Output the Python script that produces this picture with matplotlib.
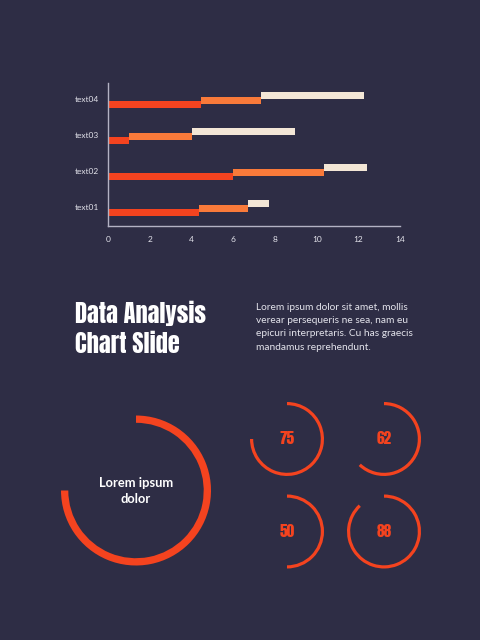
import matplotlib
matplotlib.use("Agg")
import matplotlib.pyplot as plt
from matplotlib.patches import Wedge
from matplotlib import font_manager

# ---------------- data ----------------
categories = ["text01", "text02", "text03", "text04"]
series1 = [4.35, 6.0, 1.0, 4.47]
series2 = [2.37, 4.35, 3.02, 2.84]
series3 = [0.98, 2.08, 4.96, 4.98]
x_ticks = [0, 2, 4, 6, 8, 10, 12, 14]

big_ring_value = 75
big_ring_label = "Lorem ipsum\ndolor"
small_ring_values = [75, 62, 50, 88]

title_lines = ["Data Analysis", "Chart Slide"]
paragraph_lines = ["Lorem ipsum dolor sit amet, mollis",
                   "verear persequeris ne sea, nam eu",
                   "epicuri interpretaris. Cu has graecis",
                   "mandamus reprehendunt."]

# ---------------- style ----------------
BG = "#2E2D45"
RED = "#F4431F"
ORANGE = "#F97A3A"
CREAM = "#F3E6D6"
AXIS = "#B3B2C4"
TEXT = "#E4E4EC"

names = {f.name for f in font_manager.fontManager.ttflist}
cond = None
for cand in ["Anton", "Oswald", "Bebas Neue", "Liberation Sans Narrow"]:
    if cand in names:
        cond = cand
        break
cond_family = [cond, "DejaVu Sans"] if cond else ["DejaVu Sans"]
body_family = ["Lato", "DejaVu Sans"] if "Lato" in names else ["DejaVu Sans"]

W, H = 480, 640
fig = plt.figure(figsize=(4.8, 6.4), dpi=100, facecolor=BG)

# ---------------- bar chart ----------------
ax = fig.add_axes([108.3 / W, 1 - 226 / H, (400 - 108.3) / W, (226 - 83) / H])
ax.set_facecolor(BG)
ypos = list(range(len(categories)))
bh = 0.19
s12 = [a + b for a, b in zip(series1, series2)]
ax.barh([y - 0.16 for y in ypos], series1, height=bh, color=RED)
ax.barh([y - 0.05 for y in ypos], series2, left=series1, height=bh, color=ORANGE)
ax.barh([y + 0.10 for y in ypos], series3, left=s12, height=bh, color=CREAM)
ax.set_xlim(0, 14)
ax.set_ylim(-0.53, 3.44)
ax.set_xticks(x_ticks)
ax.set_xticklabels([str(t) for t in x_ticks])
ax.set_yticks(ypos)
ax.set_yticklabels(categories)
for s in ["top", "right"]:
    ax.spines[s].set_visible(False)
for s in ["left", "bottom"]:
    ax.spines[s].set_color(AXIS)
    ax.spines[s].set_linewidth(1.0)
ax.tick_params(axis="x", length=0, pad=7, labelsize=6, labelcolor=TEXT)
ax.tick_params(axis="y", length=0, pad=7, labelsize=6, labelcolor=TEXT)
for lab in ax.get_xticklabels() + ax.get_yticklabels():
    lab.set_family(body_family)

# ---------------- texts ----------------
fig.text(75 / W, 1 - 313 / H, title_lines[0], color="white", fontsize=17.6,
         fontweight="bold", family=cond_family, va="center", ha="left")
fig.text(75 / W, 1 - 344 / H, title_lines[1], color="white", fontsize=17.6,
         fontweight="bold", family=cond_family, va="center", ha="left")
for i, line in enumerate(paragraph_lines):
    fig.text(256 / W, 1 - (307 + 13.4 * i) / H, line, color=TEXT, fontsize=7.3,
             family=body_family, va="center", ha="left")

# ---------------- rings ----------------
ov = fig.add_axes([0, 0, 1, 1])
ov.set_xlim(0, W)
ov.set_ylim(0, H)
ov.axis("off")
ov.patch.set_alpha(0)


def ring(cx, cy, r, w, value):
    span = value / 100 * 360
    ov.add_patch(Wedge((cx, H - cy), r, 90 - span, 90, width=w,
                       facecolor=RED, edgecolor="none"))


ring(136, 490.5, 75, 7.3, big_ring_value)
ov.text(136, H - 491, big_ring_label, color="white", fontsize=9.3,
        fontweight="bold", family=body_family, ha="center", va="center",
        linespacing=1.35)

centers = [(287, 439), (384, 439), (287, 531.5), (384, 531.5)]
for (cx, cy), v in zip(centers, small_ring_values):
    ring(cx, cy, 37, 3.2, v)
    ov.text(cx, H - cy, str(v), color=RED, fontsize=11, fontweight="bold",
            family=cond_family, ha="center", va="center")

fig.savefig("out.png", dpi=100, facecolor=BG)
